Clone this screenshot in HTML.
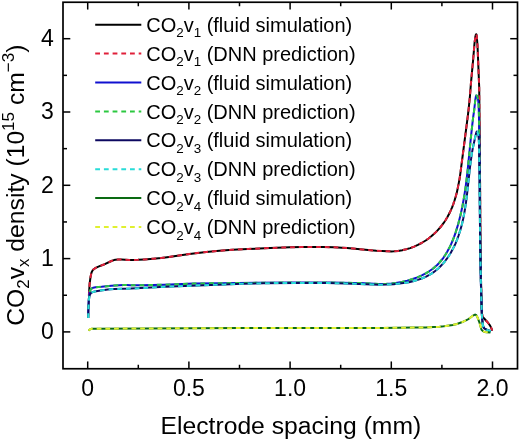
<!DOCTYPE html>
<html><head><meta charset="utf-8"><title>CO2vx density</title>
<style>html,body{margin:0;padding:0;background:#fff;overflow:hidden}svg{display:block}</style>
</head><body>
<svg width="520" height="441" viewBox="0 0 520 441">
<rect width="520" height="441" fill="#fff"/>
<g font-family="'Liberation Sans', Arial, sans-serif" fill="#000">
<line x1="95.2" y1="24.70" x2="141.3" y2="24.70" stroke="#000000" stroke-width="2"/>
<text x="146.2" y="31.80" font-size="20.0">CO<tspan font-size="13.4" dy="5.6">2</tspan><tspan dy="-5.6">v</tspan><tspan font-size="13.4" dy="5.6">1</tspan><tspan dy="-5.6"> (fluid simulation)</tspan></text>
<line x1="95.2" y1="53.60" x2="141.3" y2="53.60" stroke="#e0203a" stroke-width="2" stroke-dasharray="4.8,3.9"/>
<text x="146.2" y="60.70" font-size="20.0">CO<tspan font-size="13.4" dy="5.6">2</tspan><tspan dy="-5.6">v</tspan><tspan font-size="13.4" dy="5.6">1</tspan><tspan dy="-5.6"> (DNN prediction)</tspan></text>
<line x1="95.2" y1="82.50" x2="141.3" y2="82.50" stroke="#1010d0" stroke-width="2"/>
<text x="146.2" y="89.60" font-size="20.0">CO<tspan font-size="13.4" dy="5.6">2</tspan><tspan dy="-5.6">v</tspan><tspan font-size="13.4" dy="5.6">2</tspan><tspan dy="-5.6"> (fluid simulation)</tspan></text>
<line x1="95.2" y1="111.40" x2="141.3" y2="111.40" stroke="#2cc840" stroke-width="2" stroke-dasharray="4.8,3.9"/>
<text x="146.2" y="118.50" font-size="20.0">CO<tspan font-size="13.4" dy="5.6">2</tspan><tspan dy="-5.6">v</tspan><tspan font-size="13.4" dy="5.6">2</tspan><tspan dy="-5.6"> (DNN prediction)</tspan></text>
<line x1="95.2" y1="140.30" x2="141.3" y2="140.30" stroke="#0c0860" stroke-width="2"/>
<text x="146.2" y="147.40" font-size="20.0">CO<tspan font-size="13.4" dy="5.6">2</tspan><tspan dy="-5.6">v</tspan><tspan font-size="13.4" dy="5.6">3</tspan><tspan dy="-5.6"> (fluid simulation)</tspan></text>
<line x1="95.2" y1="169.20" x2="141.3" y2="169.20" stroke="#28dcd8" stroke-width="2" stroke-dasharray="4.8,3.9"/>
<text x="146.2" y="176.30" font-size="20.0">CO<tspan font-size="13.4" dy="5.6">2</tspan><tspan dy="-5.6">v</tspan><tspan font-size="13.4" dy="5.6">3</tspan><tspan dy="-5.6"> (DNN prediction)</tspan></text>
<line x1="95.2" y1="198.10" x2="141.3" y2="198.10" stroke="#0a6a12" stroke-width="2"/>
<text x="146.2" y="205.20" font-size="20.0">CO<tspan font-size="13.4" dy="5.6">2</tspan><tspan dy="-5.6">v</tspan><tspan font-size="13.4" dy="5.6">4</tspan><tspan dy="-5.6"> (fluid simulation)</tspan></text>
<line x1="95.2" y1="227.00" x2="141.3" y2="227.00" stroke="#e0f030" stroke-width="2" stroke-dasharray="4.8,3.9"/>
<text x="146.2" y="234.10" font-size="20.0">CO<tspan font-size="13.4" dy="5.6">2</tspan><tspan dy="-5.6">v</tspan><tspan font-size="13.4" dy="5.6">4</tspan><tspan dy="-5.6"> (DNN prediction)</tspan></text>
</g>
<g clip-path="url(#cp)">
<use href="#c1" stroke="#000000" stroke-width="2.0" fill="none" stroke-linejoin="round"/>
<use href="#c1" stroke="#e0203a" stroke-width="2.0" fill="none" stroke-dasharray="4.8,3.9"/>
<use href="#c2" stroke="#1010d0" stroke-width="2.0" fill="none" stroke-linejoin="round"/>
<use href="#c2" stroke="#2cc840" stroke-width="2.0" fill="none" stroke-dasharray="4.8,3.9"/>
<use href="#c3" stroke="#0c0860" stroke-width="2.0" fill="none" stroke-linejoin="round"/>
<use href="#c3" stroke="#28dcd8" stroke-width="2.0" fill="none" stroke-dasharray="4.8,3.9"/>
<use href="#c4" stroke="#0a6a12" stroke-width="2.0" fill="none" stroke-linejoin="round"/>
<use href="#c4" stroke="#e0f030" stroke-width="2.0" fill="none" stroke-dasharray="4.8,3.9"/>
</g>
<g stroke="#000" stroke-width="1.5">
<line x1="87.70" y1="368.75" x2="87.70" y2="361.45"/>
<line x1="87.70" y1="2.25" x2="87.70" y2="9.55"/>
<line x1="188.90" y1="368.75" x2="188.90" y2="361.45"/>
<line x1="188.90" y1="2.25" x2="188.90" y2="9.55"/>
<line x1="290.10" y1="368.75" x2="290.10" y2="361.45"/>
<line x1="290.10" y1="2.25" x2="290.10" y2="9.55"/>
<line x1="391.30" y1="368.75" x2="391.30" y2="361.45"/>
<line x1="391.30" y1="2.25" x2="391.30" y2="9.55"/>
<line x1="492.50" y1="368.75" x2="492.50" y2="361.45"/>
<line x1="492.50" y1="2.25" x2="492.50" y2="9.55"/>
<line x1="138.30" y1="368.75" x2="138.30" y2="364.75"/>
<line x1="138.30" y1="2.25" x2="138.30" y2="6.25"/>
<line x1="239.50" y1="368.75" x2="239.50" y2="364.75"/>
<line x1="239.50" y1="2.25" x2="239.50" y2="6.25"/>
<line x1="340.70" y1="368.75" x2="340.70" y2="364.75"/>
<line x1="340.70" y1="2.25" x2="340.70" y2="6.25"/>
<line x1="441.90" y1="368.75" x2="441.90" y2="364.75"/>
<line x1="441.90" y1="2.25" x2="441.90" y2="6.25"/>
<line x1="63.00" y1="331.90" x2="70.30" y2="331.90"/>
<line x1="517.50" y1="331.90" x2="510.20" y2="331.90"/>
<line x1="63.00" y1="258.60" x2="70.30" y2="258.60"/>
<line x1="517.50" y1="258.60" x2="510.20" y2="258.60"/>
<line x1="63.00" y1="185.30" x2="70.30" y2="185.30"/>
<line x1="517.50" y1="185.30" x2="510.20" y2="185.30"/>
<line x1="63.00" y1="112.00" x2="70.30" y2="112.00"/>
<line x1="517.50" y1="112.00" x2="510.20" y2="112.00"/>
<line x1="63.00" y1="38.70" x2="70.30" y2="38.70"/>
<line x1="517.50" y1="38.70" x2="510.20" y2="38.70"/>
<line x1="63.00" y1="295.25" x2="67.00" y2="295.25"/>
<line x1="517.50" y1="295.25" x2="513.50" y2="295.25"/>
<line x1="63.00" y1="221.95" x2="67.00" y2="221.95"/>
<line x1="517.50" y1="221.95" x2="513.50" y2="221.95"/>
<line x1="63.00" y1="148.65" x2="67.00" y2="148.65"/>
<line x1="517.50" y1="148.65" x2="513.50" y2="148.65"/>
<line x1="63.00" y1="75.35" x2="67.00" y2="75.35"/>
<line x1="517.50" y1="75.35" x2="513.50" y2="75.35"/>
</g>
<rect x="63.00" y="2.25" width="454.50" height="366.50" fill="none" stroke="#000" stroke-width="1.7"/>
<g font-family="'Liberation Sans', Arial, sans-serif" font-size="23.0" fill="#000">
<text x="87.70" y="396.00" text-anchor="middle">0</text>
<text x="188.90" y="396.00" text-anchor="middle">0.5</text>
<text x="290.10" y="396.00" text-anchor="middle">1.0</text>
<text x="391.30" y="396.00" text-anchor="middle">1.5</text>
<text x="492.50" y="396.00" text-anchor="middle">2.0</text>
<text x="53.90" y="339.20" text-anchor="end">0</text>
<text x="53.90" y="265.90" text-anchor="end">1</text>
<text x="53.90" y="192.60" text-anchor="end">2</text>
<text x="53.90" y="119.30" text-anchor="end">3</text>
<text x="53.90" y="46.00" text-anchor="end">4</text>
</g>
<text font-family="'Liberation Sans', Arial, sans-serif" font-size="24.7" x="290.9" y="433.5" text-anchor="middle">Electrode spacing (mm)</text>
<text font-family="'Liberation Sans', Arial, sans-serif" font-size="24.7" transform="translate(23.6,185.2) rotate(-90)" text-anchor="middle">CO<tspan font-size="17" dy="5.2">2</tspan><tspan dy="-5.2">v</tspan><tspan font-size="17" dy="5.2">x</tspan><tspan dy="-5.2"> density (10</tspan><tspan font-size="17" dy="-9.7">15</tspan><tspan dy="9.7"> cm</tspan><tspan font-size="17" dy="-9.7">&#8722;3</tspan><tspan dy="9.7">)</tspan></text>
<defs><path id="c1" d="M88.9,295.5 L89.6,284.0 L90.4,277.8 L90.8,275.7 L91.3,273.4 L91.8,271.9 L92.5,270.6 L93.0,269.9 L93.7,269.2 L95.3,268.1 L96.2,267.6 L99.0,266.4 L103.2,264.8 L111.4,261.0 L114.0,260.1 L115.5,259.8 L118.0,259.6 L121.4,259.5 L129.1,259.9 L132.2,260.0 L138.0,259.8 L144.5,259.4 L153.1,258.7 L161.3,257.9 L169.0,256.9 L184.3,254.7 L191.6,253.7 L206.3,252.0 L219.4,250.8 L232.4,249.8 L247.7,249.0 L270.3,248.0 L289.8,247.3 L302.4,246.9 L312.1,246.9 L322.9,247.0 L333.8,247.3 L341.8,247.7 L347.2,248.0 L370.6,250.3 L376.5,250.8 L387.9,251.3 L391.4,251.4 L393.9,251.3 L398.1,250.9 L402.2,250.2 L406.2,249.3 L410.2,248.1 L414.1,246.6 L417.9,244.9 L421.6,243.0 L425.7,240.5 L428.5,238.5 L431.3,236.3 L433.9,234.0 L436.4,231.6 L438.7,229.1 L441.0,226.5 L443.5,223.2 L445.5,220.3 L447.3,217.3 L448.9,214.3 L450.4,211.2 L452.1,207.4 L453.3,204.1 L454.6,200.2 L455.8,196.2 L456.9,192.2 L457.9,187.4 L458.7,183.4 L459.6,178.6 L460.5,172.4 L467.9,115.4 L469.0,105.7 L469.9,96.7 L471.0,82.6 L473.2,59.0 L474.5,43.4 L475.4,36.5 L475.9,34.5 L476.1,34.2 L476.4,34.5 L476.6,35.4 L476.8,36.5 L477.5,45.4 L478.1,59.7 L479.2,87.5 L479.7,134.7 L480.3,216.2 L480.6,247.5 L481.0,279.4 L481.8,311.4 L482.0,313.8 L482.3,315.3 L482.6,316.5 L483.0,317.3 L487.1,321.7 L488.9,324.0 L490.1,325.7 L491.0,327.4 L491.6,328.8 L492.1,330.8"/>
<path id="c2" d="M88.2,318.0 L88.4,308.6 L88.7,300.2 L89.2,295.3 L89.7,292.0 L90.4,290.0 L91.0,289.2 L91.6,288.6 L92.3,288.1 L93.2,287.8 L95.5,287.3 L101.4,286.8 L111.4,285.7 L123.4,285.1 L126.7,285.0 L130.1,285.3 L132.2,285.3 L141.2,285.2 L164.0,284.7 L193.9,283.6 L220.7,283.2 L289.3,282.5 L310.8,282.4 L331.1,282.6 L353.2,282.9 L360.3,283.1 L378.4,283.9 L382.0,284.0 L385.6,283.9 L391.4,283.5 L395.7,283.1 L401.8,282.0 L407.2,280.7 L412.0,279.3 L417.3,277.4 L421.8,275.4 L426.2,273.1 L429.2,271.3 L432.1,269.3 L434.8,267.1 L436.9,265.2 L438.9,263.2 L441.2,260.5 L443.4,257.8 L445.4,254.8 L447.2,251.8 L449.2,248.1 L450.8,244.9 L452.4,241.1 L454.0,237.1 L455.4,233.1 L456.9,228.4 L458.3,223.7 L460.4,215.5 L462.4,206.5 L464.0,197.5 L465.5,187.8 L466.6,179.4 L467.7,169.6 L470.9,137.3 L472.3,124.7 L473.2,117.0 L474.2,110.0 L475.3,100.0 L475.9,96.5 L476.3,95.4 L476.6,95.4 L477.3,96.6 L477.8,98.5 L478.3,101.1 L478.6,104.8 L478.9,113.5 L479.5,150.8 L480.0,222.9 L480.3,254.1 L481.0,287.4 L481.7,309.5 L481.9,314.4 L482.2,319.4 L482.7,323.8 L483.1,325.9 L483.6,327.4 L484.0,328.0 L484.5,328.5 L485.6,329.2 L487.6,330.2 L491.0,331.3"/>
<path id="c3" d="M88.2,318.0 L88.4,308.0 L88.8,301.0 L89.2,297.8 L89.5,296.0 L89.8,295.0 L90.4,293.8 L91.0,293.1 L91.6,292.6 L92.3,292.2 L94.7,291.5 L99.2,290.7 L107.7,289.6 L110.6,289.3 L114.2,289.0 L131.0,288.6 L165.0,286.8 L224.4,284.4 L242.6,283.7 L263.9,283.2 L297.0,282.9 L326.9,283.0 L345.1,283.4 L379.6,284.7 L386.3,284.6 L393.6,284.2 L397.7,283.8 L403.3,283.1 L408.8,282.2 L413.0,281.3 L417.7,279.9 L421.7,278.5 L425.7,276.8 L428.8,275.2 L431.2,273.8 L433.6,272.2 L435.8,270.5 L438.5,268.2 L440.5,266.2 L443.0,263.6 L444.8,261.5 L446.9,258.7 L448.9,255.7 L450.8,252.7 L452.5,249.6 L454.1,246.5 L455.6,243.3 L457.2,239.3 L458.4,236.0 L460.2,230.6 L461.9,224.5 L463.3,218.3 L464.5,212.1 L465.6,205.1 L466.7,197.4 L470.0,167.1 L471.6,155.2 L472.8,148.2 L474.8,139.0 L476.2,132.8 L476.6,131.8 L476.9,131.5 L477.2,131.6 L477.6,132.3 L478.2,134.4 L478.7,138.0 L479.0,143.8 L479.5,176.5 L480.1,238.8 L480.5,265.4 L481.2,296.2 L481.7,310.9 L482.0,316.6 L482.7,323.8 L483.1,325.9 L483.6,327.4 L484.0,328.0 L484.5,328.5 L485.6,329.2 L487.6,330.2 L491.0,331.3"/>
<path id="c4" d="M88.5,330.6 L89.5,329.6 L90.2,329.3 L91.0,329.0 L91.9,328.8 L96.8,328.7 L241.0,328.1 L308.7,327.9 L382.6,327.9 L412.6,327.6 L425.7,327.4 L433.5,327.1 L439.6,326.8 L443.7,326.3 L452.8,324.9 L456.9,324.0 L461.7,322.3 L466.5,320.2 L468.6,319.0 L473.5,315.3 L474.5,314.8 L475.3,314.6 L476.0,314.9 L476.6,315.6 L477.6,317.6 L479.4,322.3 L480.6,326.8 L481.3,329.1 L481.6,329.7 L482.0,330.3 L483.1,331.2 L483.8,331.6 L484.7,331.9 L486.6,332.2 L490.4,332.5"/><clipPath id="cp"><rect x="63.00" y="2.25" width="454.50" height="366.50"/></clipPath></defs>
</svg>
</body></html>
